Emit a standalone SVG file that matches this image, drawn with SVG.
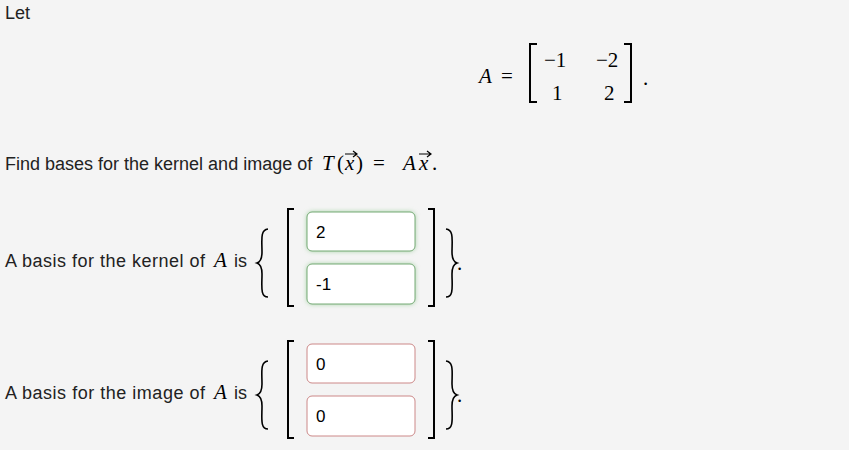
<svg xmlns="http://www.w3.org/2000/svg" width="849" height="450" viewBox="0 0 849 450">
<defs>
<filter id="gg" x="-20%" y="-30%" width="140%" height="160%"><feGaussianBlur stdDeviation="2.5"/></filter>
<style>
.t{font-family:"Liberation Sans",Arial,sans-serif;font-size:18px;fill:#222}
.m{font-family:"Liberation Serif","Times New Roman",serif;font-size:21px;fill:#000}
.mi{font-family:"Liberation Serif","Times New Roman",serif;font-size:21px;font-style:italic;fill:#000}
.br{fill:none;stroke:#000;stroke-width:2}
.bc{fill:none;stroke:#000;stroke-width:1.6}
.ar{fill:none;stroke:#000;stroke-width:1.2}
.inp{font-family:"Liberation Sans",Arial,sans-serif;font-size:17px;fill:#000}
</style>
</defs>
<rect width="849" height="450" fill="#f4f4f4"/>
<text class="t" x="5" y="19">Let</text>
<g id="matrix">
<text class="mi" x="479" y="83">A</text>
<text class="m" x="501" y="83">=</text>
<path class="br" d="M537,44 H530 V102 H537"/>
<text class="m" x="544" y="67">−1</text>
<text class="m" x="596" y="67">−2</text>
<text class="m" x="552" y="100">1</text>
<text class="m" x="604" y="100">2</text>
<path class="br" d="M624,44 H631 V102 H624"/>
<text class="m" x="643" y="85">.</text>
</g>
<g id="question">
<text class="t" x="5" y="170">Find bases for the kernel and image of</text>
<text class="mi" x="322" y="170">T</text>
<text class="m" x="337" y="170">(</text>
<text class="mi" x="345" y="170">x</text>
<path class="ar" d="M345,154 H356 M353,151 L357,154 L353,157"/>
<text class="m" x="356" y="170">)</text>
<text class="m" x="373" y="170">=</text>
<text class="mi" x="403" y="170">A</text>
<text class="mi" x="419" y="170">x</text>
<path class="ar" d="M419,154 H430 M427,151 L431,154 L427,157"/>
<text class="m" x="432" y="170">.</text>
</g>
<g id="kernel">
<text class="t" x="5" y="267" textLength="200" lengthAdjust="spacing">A basis for the kernel of</text>
<text class="mi" x="214" y="267">A</text>
<text class="t" x="234" y="267">is</text>
<path class="bc" d="M268,229 C260,230 262,240 262,252 C262,260 260,262 257,263 C260,264 262,266 262,274 C262,286 260,297 268,297"/>
<path class="br" d="M294,209 H288 V306 H294"/>
<rect x="307" y="212" width="108" height="39" rx="5" fill="#9c9" filter="url(#gg)"/>
<rect x="307" y="212" width="108" height="39" rx="5" fill="#fff" stroke="#7a7" stroke-width="1"/>
<text class="inp" x="316" y="238">2</text>
<rect x="307" y="264" width="108" height="40" rx="5" fill="#9c9" filter="url(#gg)"/>
<rect x="307" y="264" width="108" height="40" rx="5" fill="#fff" stroke="#7a7" stroke-width="1"/>
<text class="inp" x="316" y="290">-1</text>
<path class="br" d="M428,209 H434 V306 H428"/>
<path class="bc" d="M446,229 C454,230 452,240 452,252 C452,260 454,262 457,263 C454,264 452,266 452,274 C452,286 454,297 446,297"/>
<text class="m" x="457" y="270">.</text>
</g>
<g id="image">
<text class="t" x="5" y="399" textLength="200" lengthAdjust="spacing">A basis for the image of</text>
<text class="mi" x="214" y="399">A</text>
<text class="t" x="234" y="399">is</text>
<path class="bc" d="M268,361 C260,362 262,372 262,384 C262,392 260,394 257,395 C260,396 262,398 262,406 C262,418 260,429 268,429"/>
<path class="br" d="M294,341 H288 V438 H294"/>
<rect x="307" y="344" width="108" height="39" rx="5" fill="#fff" stroke="#c88" stroke-width="1"/>
<text class="inp" x="316" y="370">0</text>
<rect x="307" y="396" width="108" height="40" rx="5" fill="#fff" stroke="#c88" stroke-width="1"/>
<text class="inp" x="316" y="422">0</text>
<path class="br" d="M428,341 H434 V438 H428"/>
<path class="bc" d="M446,361 C454,362 452,372 452,384 C452,392 454,394 457,395 C454,396 452,398 452,406 C452,418 454,429 446,429"/>
<text class="m" x="457" y="402">.</text>
</g>
</svg>
